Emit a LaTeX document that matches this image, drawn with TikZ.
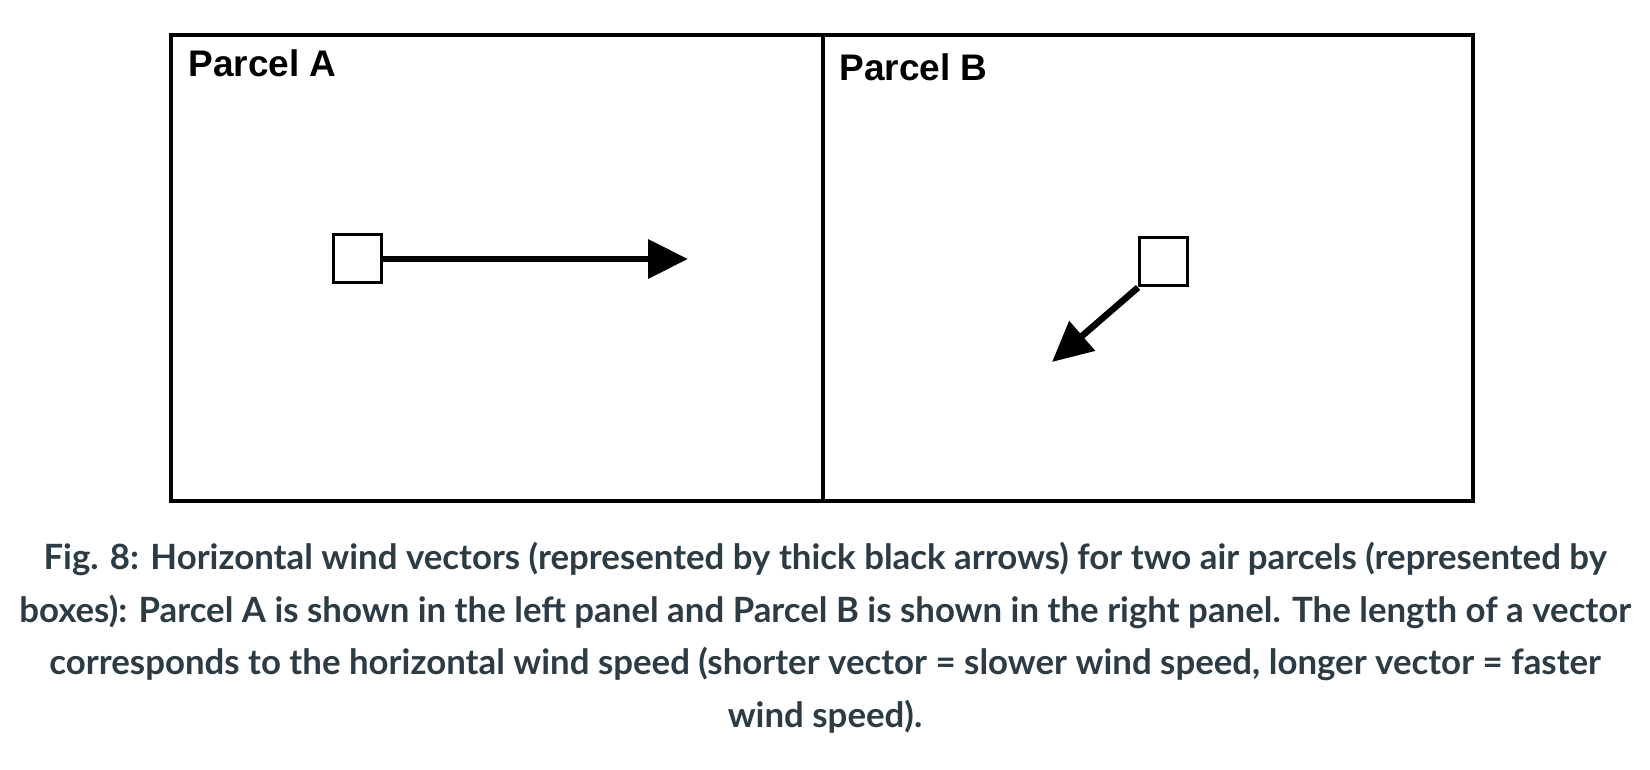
\documentclass[tikz,border=0pt]{standalone}
\usepackage{fontspec}
\setmainfont{Lato}
\newfontfamily\arialfont{Liberation Sans}
\usetikzlibrary{arrows.meta}
\definecolor{capcol}{HTML}{2D3B45}
\begin{document}
\begin{tikzpicture}[x=1pt,y=-1pt,
  frame/.style={draw=black,line width=4pt},
  parcel/.style={draw=black,line width=3pt,minimum size=48pt,inner sep=0pt},
  vec/.style={line width=6.5pt,-{Triangle[length=40pt,width=38pt]}},
  lbl/.style={anchor=base west,font=\arialfont\bfseries\fontsize{37}{44}\selectfont}]
\useasboundingbox (0,0) rectangle (1650,770);
\draw[frame] (171,35) rectangle (1473,501);
\draw[frame] (823,35) -- (823,501);
\node[lbl] (la) at (185,77) {Parcel A};
\node[lbl] (lb) at (836,81) {Parcel B};
\node[parcel] (pa) at (357.5,259) {};
\node[parcel] (pb) at (1163.5,262) {};
\coordinate (ta) at (688,259);
\coordinate (tb) at (1052,362);
\draw[vec] (pa.east) -- (ta);
\draw[vec] (pb.south west) -- (tb);
\node[text=capcol,align=center,font=\bfseries\fontsize{34.8}{52.5}\selectfont] (cap) at (825,638)
{Fig. 8: Horizontal wind vectors (represented by thick black arrows) for two air parcels (represented by\\
boxes): Parcel A is shown in the left panel and Parcel B is shown in the right panel. The length of a vector\\
corresponds to the horizontal wind speed (shorter vector = slower wind speed, longer vector = faster\\
wind speed).};
\end{tikzpicture}
\end{document}
